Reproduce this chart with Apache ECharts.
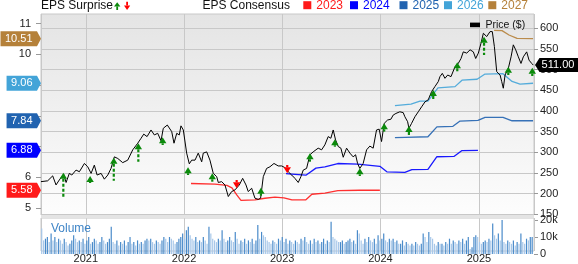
<!DOCTYPE html>
<html><head><meta charset="utf-8">
<script src="https://cdn.jsdelivr.net/npm/echarts@6/dist/echarts.min.js"></script>
<style>html,body{margin:0;padding:0;background:#fff}#c{width:578px;height:264px}</style>
</head><body><div id="c"></div>
<script>
// ---------- data (decimal years) ----------
const priceDates = [2020.545,2020.613,2020.664,2020.698,2020.731,2020.776,2020.800,2020.833,2020.858,2020.901,
2020.935,2020.986,2021.020,2021.054,2021.087,2021.115,2021.156,2021.189,2021.224,2021.257,
2021.291,2021.326,2021.376,2021.427,2021.478,2021.529,2021.563,2021.590,2021.624,2021.664,
2021.698,2021.732,2021.766,2021.789,2021.830,2021.875,2021.898,2021.926,2021.952,2021.969,
2021.993,2022.027,2022.054,2022.078,2022.112,2022.145,2022.180,2022.196,2022.231,2022.264,
2022.298,2022.333,2022.349,2022.383,2022.417,2022.451,2022.485,2022.519,2022.563,2022.597,
2022.631,2022.654,2022.689,2022.722,2022.756,2022.780,2022.807,2022.841,2022.875,2022.916,
2022.959,2022.994,2023.027,2023.061,2023.096,2023.129,2023.163,2023.190,2023.214,2023.248,
2023.282,2023.315,2023.366,2023.401,2023.434,2023.468,2023.495,2023.519,2023.543,2023.570,
2023.597,2023.621,2023.655,2023.689,2023.722,2023.747,2023.767,2023.790,2023.824,2023.859,
2023.892,2023.926,2023.960,2023.987,2024.011,2024.038,2024.072,2024.106,2024.129,2024.157,
2024.197,2024.231,2024.248,2024.276,2024.289,2024.316,2024.350,2024.384,2024.418,2024.452,
2024.485,2024.520,2024.553,2024.587,2024.604,2024.628,2024.655,2024.683,2024.716,2024.757,
2024.790,2024.818,2024.841,2024.876,2024.910,2024.943,2024.967,2024.994,2025.021,2025.045,
2025.079,2025.113,2025.136,2025.157,2025.181,2025.215,2025.232,2025.248,2025.266,2025.299,
2025.327,2025.350,2025.374,2025.401,2025.428,2025.452,2025.486,2025.510,2025.537,2025.553];
const priceValues = [229,231,243,221,233,247,227,249,245,257,
253,273,265,249,269,245,249,235,245,261,
289,285,275,281,306,322,334,344,338,354,
342,346,328,358,366,350,322,346,342,364,
354,298,272,281,281,298,277,298,301,281,
249,241,227,229,221,193,205,209,221,237,
221,205,213,189,186,189,241,261,265,273,
267,267,263,253,245,237,227,241,257,261,
294,301,310,306,318,338,334,354,330,314,
310,288,310,298,289,294,273,261,273,306,
315,310,354,356,326,370,378,380,390,394,
398,396,386,374,358,370,386,398,410,422,
427,447,459,471,483,491,479,487,483,507,
515,527,543,540,548,543,527,540,564,588,
580,592,592,556,495,487,471,455,487,503,
531,560,548,531,515,531,543,523,515,511];

const eps2023Dates = [2022.071,2022.315,2022.437,2022.488,2022.539,2022.580,2022.722,2022.824,2022.926,2023.017,2023.099,2023.241,2023.302,2023.434,2023.566,2023.790,2023.994];
const eps2023 = [5.80,5.78,5.74,5.66,5.42,5.25,5.27,5.32,5.36,5.33,5.27,5.27,5.45,5.49,5.57,5.58,5.58];
const eps2024Dates = [2023.038,2023.130,2023.241,2023.343,2023.434,2023.566,2023.770,2023.994,2024.065,2024.248,2024.319,2024.482,2024.573,2024.746,2024.828,2024.990];
const eps2024 = [6.12,6.10,6.07,6.30,6.34,6.45,6.43,6.36,6.18,6.16,6.25,6.26,6.67,6.68,6.87,6.88];
const eps2025Dates = [2024.147,2024.248,2024.482,2024.573,2024.736,2024.808,2024.990,2025.062,2025.245,2025.337,2025.551];
const eps2025 = [7.29,7.30,7.32,7.64,7.66,7.83,7.85,7.95,7.95,7.84,7.84];
const eps2026Dates = [2024.147,2024.310,2024.401,2024.482,2024.584,2024.757,2024.828,2024.981,2025.062,2025.245,2025.337,2025.418,2025.551];
const eps2026 = [8.33,8.38,8.48,8.48,8.91,8.95,9.16,9.19,9.36,9.37,9.12,9.03,9.06];
const eps2027Dates = [2025.154,2025.235,2025.306,2025.388,2025.551];
const eps2027 = [10.78,10.77,10.63,10.52,10.51];

const surpriseDates = [2020.772,2021.044,2021.285,2021.535,2021.783,2022.041,2022.288,2022.536,2022.783,2023.051,2023.282,2023.536,2023.790,2024.038,2024.289,2024.536,2024.780,2025.052,2025.299,2025.543];
const surpriseTip  = [250.7,242.7,287,321.8,336.3,263.8,249.2,212.9,214.4,249.2,297.6,331.5,261.3,370.2,363.7,450.7,517.8,579.7,507.1,504.7];
const surpriseTail = [192.6,225.8,231.3,277.3,317.7,245.1,228.9,233,195,269.3,277.3,313.6,242.7,350,341.9,428.2,495,535.4,487,484.6];

const volumeStart = '2020-07-19';
const volumes = [15,8,9,10,7, 12,8,10,7,9, 8,6,9,7,5, 6,8,11,9,7,8, 7,9,6,8,10, 6,7,9,8,6, 7,10,8,6,7,9,
16,7,6,8,5, 7,6,8,5,7, 10,6,7,5,8,6, 7,6,8,9,8, 9,7,6,8,7, 6,8,10,9,7,10, 9,8,6,7,9, 10,12,9,14,16,
11,9,8,10,7,8, 7,10,8,6,16, 12,9,8,7,9, 8,14,9,7,8,10, 8,7,13,9,6, 8,7,9,6,8, 7,9,6,8,17,9,
13,11,10,8,7, 6,8,7,6,9, 8,10,7,9,6,8, 7,6,8,7,6, 9,8,10,7,6, 8,6,9,7,8,6, 7,9,6,8,7,
19,10,9,8,7, 7,8,6,7,8,9, 7,8,6,14,12, 8,6,9,7,10, 8,7,9,6,11,8, 9,12,8,7,9, 8,9,7,8,6,
6,8,5,7,6,5, 6,5,7,6,5, 6,12,10,7,13, 10,9,6,5,7,6, 6,5,7,6,9, 6,8,7,6,8, 7,9,6,8,10,3,
4,10,11,10,7, 6,7,8,7,9, 8,18,11,9,12,8, 20,7,6,8,7, 6,8,5,7,6, 12,7,6,9,8,10, 10];

const priceTicks = [150,200,250,300,350,400,450,500,550,600];
const epsTickLabels = [5,6,10,11];
const volumeTicks = [0,5000,10000,15000,20000];
const yearLabels = ['2021','2022','2023','2024','2025'];
const legendYears = ['2023','2024','2025','2026','2027'];

// ---------- helpers ----------
function yt(y){const Y=Math.floor(y);const a=new Date(Y,0,1).getTime(),b=new Date(Y+1,0,1).getTime();return a+(y-Y)*(b-a);}
const X_MIN = yt(2020.5453), X_MAX = yt(2025.5605);
const FONT = '"Liberation Sans", Arial, sans-serif';
const L = 41, W = 493, R = L + W;
const colors = {'2023':'#ff1a1a','2024':'#0000ff','2025':'#2163b0','2026':'#43a4d8','2027':'#b5813a'};
const measureCtx = document.createElement('canvas').getContext('2d');
function tw(t, f){measureCtx.font = f; return measureCtx.measureText(t).width;}

const vStart = new Date(volumeStart + 'T00:00:00').getTime();
const volData = volumes.map((v,i)=>[vStart + i*7*86400000, v*1000]);

function timeAxis(gi, opts){
  return Object.assign({type:'time', gridIndex:gi, min:X_MIN, max:X_MAX,
    minInterval:365*86400000, maxInterval:366*86400000,
    axisLine:{show:false}, axisTick:{show:false}, axisLabel:{show:false}, splitLine:{show:false}}, opts||{});
}
const yearSplit = {show:true, lineStyle:{color:'#c8c8c8', width:1}};
function yearFmt(v){const d=new Date(v);return (d.getMonth()===0&&d.getDate()===1&&yearLabels.includes(String(d.getFullYear())))?String(d.getFullYear()):'';}

const epsSeries = [['2023',eps2023Dates,eps2023],['2024',eps2024Dates,eps2024],['2025',eps2025Dates,eps2025],['2026',eps2026Dates,eps2026],['2027',eps2027Dates,eps2027]];

const chart = echarts.init(document.getElementById('c'), null, {renderer:'canvas'});
const graphics = [];
// title row
graphics.push({type:'text', left:L, top:0, style:{text:'EPS Surprise', font:'12px '+FONT, fill:'#111'}});
graphics.push({type:'polygon', shape:{points:[[114,6.6],[117.2,2.2],[120.4,6.6]]}, style:{fill:'#0b8a0b'}});
graphics.push({type:'rect', shape:{x:116.3,y:6.4,width:1.8,height:3.6}, style:{fill:'#0b8a0b'}});
graphics.push({type:'rect', shape:{x:126.2,y:1.8,width:1.8,height:3.8}, style:{fill:'#ff0000'}});
graphics.push({type:'polygon', shape:{points:[[124,5.4],[130.2,5.4],[127.1,10]]}, style:{fill:'#ff0000'}});
graphics.push({type:'text', x:202.5, y:0, style:{text:'EPS Consensus', font:'12px '+FONT, fill:'#111'}});
const legX = [303.3, 350, 399.5, 444, 488.3];
legendYears.forEach((yr,i)=>{
  graphics.push({type:'rect', shape:{x:legX[i], y:1.2, width:8, height:8}, style:{fill:colors[yr]}});
  graphics.push({type:'text', x:legX[i]+13, y:0, style:{text:yr, font:'12px '+FONT, fill:colors[yr]}});
});
// price legend inside plot
graphics.push({type:'rect', shape:{x:470, y:22.6, width:10, height:4.6}, style:{fill:'#000'}, z:20});
graphics.push({type:'text', x:485.5, y:25, style:{text:'Price ($)', font:'10.5px '+FONT, fill:'#111', verticalAlign:'middle'}, z:20});
// separator between panels
graphics.push({type:'rect', shape:{x:L, y:215.3, width:W, height:2.9}, style:{fill:'#e4e4e4'}, z:20});
// volume label
graphics.push({type:'text', x:51, y:229, style:{text:'Volume', font:'12px '+FONT, fill:'#3f85c7', verticalAlign:'middle'}, z:20});

const labelBase = {fontSize:11, color:'#222', fontFamily:FONT, showMinLabel:true, showMaxLabel:true, hideOverlap:false};

const option = {
  animation:false,
  backgroundColor:'#ffffff',
  textStyle:{fontFamily:FONT},
  grid:[
    {left:L, width:W, top:14, height:201, show:true, z:0, borderColor:'#c8c8c8', borderWidth:1,
      backgroundColor:{type:'linear',x:0,y:0,x2:0,y2:1,colorStops:[{offset:0,color:'#e4e4e4'},{offset:1,color:'#fdfdfd'}]}},
    {left:L, width:W, top:28.3, height:186},
    {left:L, width:W, top:23.6, height:184.5},
    {left:L, width:W, top:218, height:36, show:true, z:0, borderColor:'#c8c8c8', borderWidth:1, backgroundColor:'#ffffff'},
    {left:L, width:W, top:220, height:34}
  ],
  xAxis:[
    timeAxis(0,{splitLine:yearSplit, z:1}),
    timeAxis(1),
    timeAxis(2),
    timeAxis(3,{splitLine:yearSplit, z:1, axisLabel:Object.assign({}, labelBase, {show:true, formatter:yearFmt, margin:2, showMinLabel:false, showMaxLabel:false})}),
    timeAxis(4)
  ],
  yAxis:[
    {type:'value', gridIndex:0, min:0, max:1, show:false},
    {type:'value', gridIndex:1, position:'right', min:priceTicks[0], max:priceTicks[priceTicks.length-1], interval:50, z:1,
      axisLine:{show:false}, axisTick:{show:true, length:4, lineStyle:{color:'#999'}},
      axisLabel:Object.assign({}, labelBase, {margin:6}),
      splitLine:{show:true, lineStyle:{color:'#c8c8c8', width:1}}},
    {type:'value', gridIndex:2, position:'left', min:5, max:11, interval:1,
      axisLine:{show:false}, axisTick:{show:true, length:5, lineStyle:{color:'#999'}},
      axisLabel:Object.assign({}, labelBase, {margin:10, formatter:v=>(epsTickLabels.includes(v)?String(v):'')}),
      splitLine:{show:false}},
    {type:'value', gridIndex:3, min:0, max:1, show:false},
    {type:'value', gridIndex:4, position:'right', min:volumeTicks[0], max:volumeTicks[volumeTicks.length-1], interval:5000,
      axisLine:{show:false}, axisTick:{show:true, length:4, lineStyle:{color:'#999'}},
      axisLabel:Object.assign({}, labelBase, {margin:6, formatter:v=>v===0?'0':(v/1000)+'k'}),
      splitLine:{show:false}}
  ],
  graphic:graphics,
  series:[
    {type:'bar', xAxisIndex:4, yAxisIndex:4, data:volData, barWidth:1.2, z:2,
      itemStyle:{color:p=>(p.dataIndex>0 && volumes[p.dataIndex]>=volumes[p.dataIndex-1])?'#4a8bca':'#a7c7e9'}},
    ...epsSeries.map(([yr,d,v])=>({type:'line', name:yr, xAxisIndex:2, yAxisIndex:2, symbol:'none', z:3,
      data:d.map((t,i)=>[yt(t),v[i]]), lineStyle:{color:colors[yr], width:1.3, opacity:0.9}})),
    {type:'line', name:'Price', xAxisIndex:1, yAxisIndex:1, symbol:'none', z:4,
      data:priceDates.map((t,i)=>[yt(t),priceValues[i]]), lineStyle:{color:'#000', width:1}},
    {type:'custom', xAxisIndex:1, yAxisIndex:1, z:6, clip:false,
      data:surpriseDates.map((t,i)=>[yt(t),surpriseTip[i],surpriseTail[i]]),
      renderItem:(params, api)=>{
        const tip = api.coord([api.value(0), api.value(1)]);
        const tail = api.coord([api.value(0), api.value(2)]);
        const up = tail[1] > tip[1];
        const col = up ? '#0b8a0b' : '#ff0000';
        const hh = 6, hw = 3.7, x = tip[0];
        const baseY = up ? tip[1]+hh : tip[1]-hh;
        const ch = [];
        if (up ? tail[1] > baseY+0.3 : tail[1] < baseY-0.3)
          ch.push({type:'line', shape:{x1:x,y1:baseY,x2:x,y2:tail[1]}, style:{stroke:col, lineWidth:2.2, lineDash:[3,2]}});
        ch.push({type:'polygon', shape:{points:[[x-hw,baseY],[x+hw,baseY],[x,tip[1]]]}, style:{fill:col}});
        return {type:'group', children:ch};
      }},
    {type:'custom', xAxisIndex:2, yAxisIndex:2, z:8, clip:false,
      data:epsSeries.map(([yr,d,v])=>[yt(d[d.length-1]), v[v.length-1]]),
      renderItem:(params, api)=>{
        const y = api.coord([api.value(0), api.value(1)])[1];
        const yr = epsSeries[params.dataIndex][0];
        const txt = api.value(1).toFixed(2);
        const f = '11px '+FONT;
        const bodyR = 37, tipX = 41, bodyL = bodyR - tw(txt,f) - 9, h = 15;
        return {type:'group', children:[
          {type:'polygon', shape:{points:[[bodyL,y-h/2],[bodyR,y-h/2],[tipX,y],[bodyR,y+h/2],[bodyL,y+h/2]]}, style:{fill:colors[yr]}},
          {type:'text', style:{text:txt, x:(bodyL+bodyR)/2, y:y, align:'center', verticalAlign:'middle', fill:'#fff', font:f}}
        ]};
      }},
    {type:'custom', xAxisIndex:1, yAxisIndex:1, z:8, clip:false,
      data:[[yt(priceDates[priceDates.length-1]), priceValues[priceValues.length-1]]],
      renderItem:(params, api)=>{
        const y = api.coord([api.value(0), api.value(1)])[1];
        const txt = api.value(1).toFixed(2);
        const x0 = R+1, h = 14;
        return {type:'group', children:[
          {type:'polygon', shape:{points:[[x0,y],[x0+4.5,y-h/2],[578,y-h/2],[578,y+h/2],[x0+4.5,y+h/2]]}, style:{fill:'#000'}},
          {type:'text', style:{text:txt, x:558, y:y, align:'center', verticalAlign:'middle', fill:'#fff', font:'11px '+FONT}}
        ]};
      }}
  ]
};
chart.setOption(option);
</script>
</body></html>
